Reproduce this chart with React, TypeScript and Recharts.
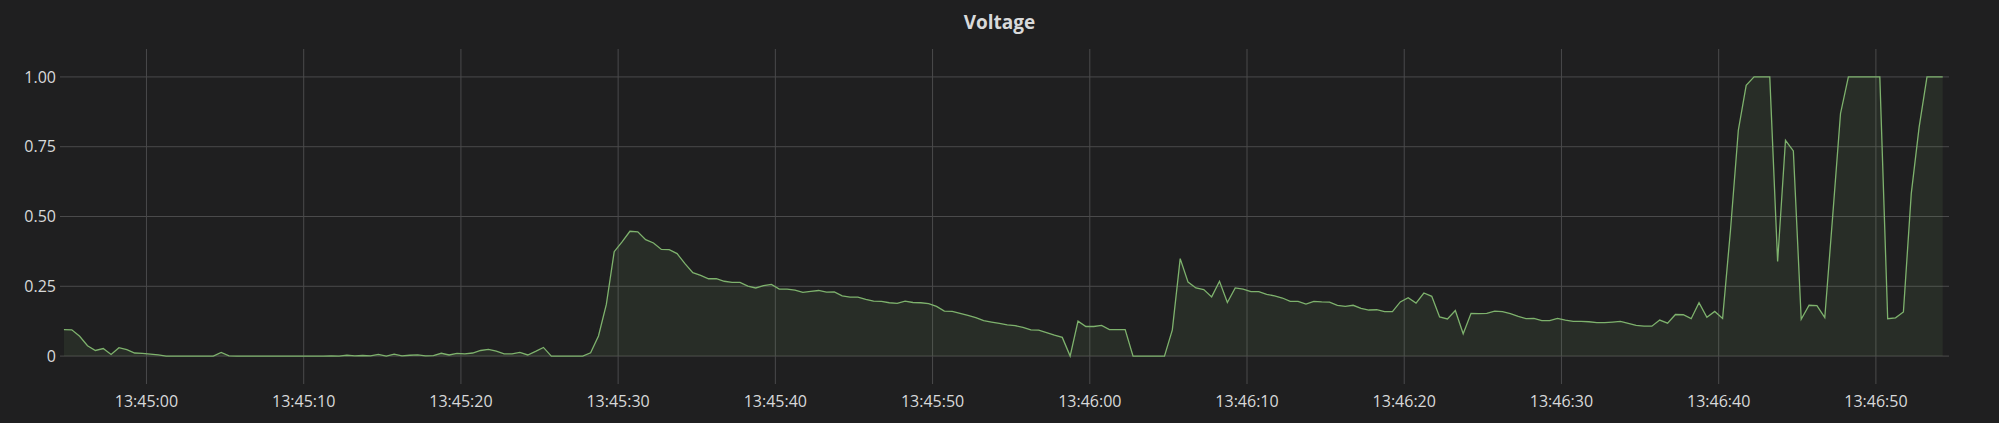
import React from 'react';
import { AreaChart, Area, XAxis, YAxis, CartesianGrid } from 'recharts';

const WIDTH = 1999;
const HEIGHT = 423;

// samples every half second, first one at 13:44:54.75
const startTime = '13:44:54.75';
const stepSeconds = 0.5;

const voltage = [
  0.095, 0.094, 0.071, 0.037, 0.02, 0.027, 0.006, 0.03, 0.023, 0.011,
  0.01, 0.007, 0.004, 0, 0, 0, 0, 0, 0, 0,
  0.013, 0.001, 0, 0, 0, 0, 0, 0, 0, 0,
  0, 0, 0, 0, 0.001, 0, 0.003, 0.001, 0.002, 0.001,
  0.006, 0, 0.007, 0.001, 0.003, 0.004, 0.001, 0.002, 0.01, 0.004,
  0.01, 0.008, 0.011, 0.02, 0.024, 0.018, 0.008, 0.008, 0.013, 0.004,
  0.017, 0.031, 0, 0, 0, 0, 0, 0.012, 0.072, 0.185,
  0.374, 0.409, 0.447, 0.445, 0.417, 0.405, 0.382, 0.381, 0.367, 0.331,
  0.299, 0.289, 0.277, 0.277, 0.268, 0.264, 0.264, 0.251, 0.244, 0.252,
  0.257, 0.24, 0.24, 0.236, 0.228, 0.232, 0.235, 0.229, 0.23, 0.216,
  0.211, 0.211, 0.203, 0.197, 0.196, 0.191, 0.189, 0.197, 0.192, 0.191,
  0.188, 0.178, 0.161, 0.16, 0.153, 0.146, 0.138, 0.127, 0.122, 0.117,
  0.112, 0.109, 0.103, 0.094, 0.093, 0.084, 0.075, 0.067, 0, 0.125,
  0.106, 0.106, 0.11, 0.095, 0.095, 0.095, 0, 0, 0, 0,
  0, 0.094, 0.349, 0.265, 0.244, 0.238, 0.212, 0.268, 0.192, 0.244,
  0.24, 0.231, 0.231, 0.221, 0.216, 0.208, 0.196, 0.196, 0.186, 0.196,
  0.194, 0.193, 0.182, 0.178, 0.182, 0.171, 0.165, 0.166, 0.159, 0.159,
  0.194, 0.209, 0.19, 0.226, 0.214, 0.14, 0.133, 0.163, 0.08, 0.153,
  0.152, 0.153, 0.161, 0.159, 0.152, 0.142, 0.134, 0.135, 0.127, 0.127,
  0.135, 0.129, 0.124, 0.124, 0.123, 0.12, 0.12, 0.122, 0.124, 0.117,
  0.11, 0.107, 0.107, 0.129, 0.118, 0.149, 0.148, 0.134, 0.191, 0.139,
  0.16, 0.135, 0.45, 0.809, 0.97, 1, 1, 1, 0.339, 0.773,
  0.735, 0.132, 0.182, 0.181, 0.138, 0.5, 0.869, 1, 1, 1,
  1, 1, 0.134, 0.137, 0.158, 0.582, 0.82, 1, 1, 1,
];

const timeTicks = [
  '13:45:00', '13:45:10', '13:45:20', '13:45:30', '13:45:40', '13:45:50',
  '13:46:00', '13:46:10', '13:46:20', '13:46:30', '13:46:40', '13:46:50',
];
const valueTicks = [0, 0.25, 0.5, 0.75, 1];

const toSeconds = (s: string) => {
  const [h, m, sec] = s.split(':').map(Number);
  return h * 3600 + m * 60 + sec;
};

const pad = (n: number) => String(n).padStart(2, '0');
const formatTime = (t: number) => {
  const s = Math.round(t);
  return `${pad(Math.floor(s / 3600))}:${pad(Math.floor((s % 3600) / 60))}:${pad(s % 60)}`;
};

const t0 = toSeconds(startTime);
const data = voltage.map((v, i) => ({ t: t0 + i * stepSeconds, v }));

const textColor = '#d8d9da';
const font = '"Open Sans", sans-serif';

export default function App() {
  return (
    <div
      style={{
        position: 'relative',
        width: WIDTH,
        height: HEIGHT,
        background: '#1f1f20',
        fontFamily: font,
      }}
    >
      <style>{`body { margin: 0; background: #1f1f20; }`}</style>
      <div
        style={{
          position: 'absolute',
          top: 10,
          left: 0,
          width: WIDTH,
          textAlign: 'center',
          color: textColor,
          fontWeight: 700,
          fontSize: 19,
          lineHeight: '24px',
        }}
      >
        Voltage
      </div>
      <AreaChart
        width={WIDTH}
        height={HEIGHT}
        data={data}
        margin={{ top: 49, right: 50, bottom: 9, left: 0 }}
      >
        {/* syncWithTicks keeps the grid off the plot border */}
        <CartesianGrid stroke="#4a4a4b" strokeWidth={1} syncWithTicks />
        <XAxis
          dataKey="t"
          type="number"
          scale="linear"
          domain={[toSeconds('13:44:54.5'), toSeconds('13:46:54.65')]}
          ticks={timeTicks.map(toSeconds)}
          tickFormatter={formatTime}
          axisLine={false}
          tickLine={false}
          tickSize={0}
          tickMargin={12}
          height={30}
          tick={{ fill: textColor, fontSize: 16, fontFamily: font }}
          allowDataOverflow
        />
        <YAxis
          type="number"
          domain={[-0.1, 1.1]}
          ticks={valueTicks}
          tickFormatter={(v: number) => (v === 0 ? '0' : v.toFixed(2))}
          axisLine={false}
          tickLine={false}
          tickSize={0}
          tickMargin={4}
          width={60}
          tick={{ fill: textColor, fontSize: 16, fontFamily: font }}
          allowDataOverflow
        />
        <Area
          type="linear"
          dataKey="v"
          stroke="#7eb26d"
          strokeWidth={1.3}
          fill="#7eb26d"
          fillOpacity={0.1}
          baseValue={0}
          dot={false}
          activeDot={false}
          isAnimationActive={false}
        />
      </AreaChart>
    </div>
  );
}
